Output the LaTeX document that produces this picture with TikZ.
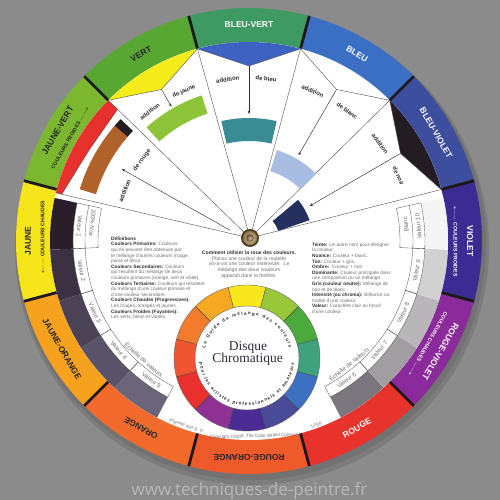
\documentclass[tikz,border=0pt]{standalone}
\usepackage{fontspec}
\setmainfont{Liberation Sans}
\newfontfamily\dqserif{Liberation Serif}
\newfontfamily\wmfont{Open Sans}
\usepackage{graphicx}
\usetikzlibrary{decorations.text,arrows.meta}
\definecolor{bg}{HTML}{8B8B8B}
\definecolor{cBV}{HTML}{3E9A62}
\definecolor{cB}{HTML}{3B6FC3}
\definecolor{cBVi}{HTML}{3C4E9D}
\definecolor{cVi}{HTML}{3C2B93}
\definecolor{cRV}{HTML}{8B2A9B}
\definecolor{cR}{HTML}{E8322C}
\definecolor{cRO}{HTML}{EF5A2A}
\definecolor{cO}{HTML}{F26B2C}
\definecolor{cJO}{HTML}{F6A21E}
\definecolor{cJ}{HTML}{F7E51B}
\definecolor{cJV}{HTML}{7BB82F}
\definecolor{cV}{HTML}{58A733}
\definecolor{divc}{HTML}{1E1818}
\definecolor{wYel}{HTML}{F6EC1C}
\definecolor{wRed}{HTML}{E8302C}
\definecolor{wBlu}{HTML}{3D62C2}
\definecolor{wBlk}{HTML}{231C22}
\definecolor{sBrn}{HTML}{B0622A}
\definecolor{sGrn}{HTML}{8DC43A}
\definecolor{sTeal}{HTML}{3A8C94}
\definecolor{sLB}{HTML}{A9BDE3}
\definecolor{sNavy}{HTML}{26305E}
\definecolor{txtd}{HTML}{2E2E2E}
\definecolor{txtl}{HTML}{6E6E6E}
\definecolor{linec}{HTML}{5A5A5A}
\definecolor{dqc}{HTML}{2B2B3C}
\definecolor{wmc}{HTML}{B8B8B8}
\definecolor{vA}{HTML}{2A1E2A}
\definecolor{vB}{HTML}{3B3142}
\definecolor{vC}{HTML}{4B4256}
\definecolor{vD}{HTML}{5A5268}
\definecolor{vE}{HTML}{6C657A}
\definecolor{vF}{HTML}{7B757D}
\definecolor{vG}{HTML}{A19DA1}
\definecolor{vH}{HTML}{B8B6B8}
\definecolor{vI}{HTML}{D2D1D2}
\definecolor{vJ}{HTML}{F5F5F5}
\definecolor{swY}{HTML}{F8E71C}
\definecolor{swYO}{HTML}{F6A823}
\definecolor{swO}{HTML}{F37B2B}
\definecolor{swRO}{HTML}{EF5530}
\definecolor{swR}{HTML}{E9302D}
\definecolor{swRV}{HTML}{8F3193}
\definecolor{swVi}{HTML}{4B2C95}
\definecolor{swBV}{HTML}{4A4B98}
\definecolor{swB}{HTML}{3C70C0}
\definecolor{swBG}{HTML}{3FA27F}
\definecolor{swG}{HTML}{4AAA3B}
\definecolor{swYG}{HTML}{98C73A}
\definecolor{pivD}{HTML}{4A3A28}
\definecolor{pivM}{HTML}{8A6A40}
\definecolor{pivL}{HTML}{EFE2C0}
\newcommand\annfill[5]{\fill[#1] (#2:#4) arc[start angle=#2,end angle=#3,radius=#4] -- (#3:#5) arc[start angle=#3,end angle=#2,radius=#5] -- cycle;}
\tikzset{
 ringlab/.style={font=\fontsize{8.5}{9}\selectfont\bfseries,inner sep=0pt},
 sublab/.style={font=\fontsize{5.2}{6}\selectfont\bfseries,inner sep=0pt},
 sectxt/.style={font=\fontsize{6}{7}\selectfont\bfseries,text=txtd,inner sep=0pt},
 vallab/.style={font=\fontsize{6}{7}\selectfont,text=txtl,inner sep=0pt},
 fine/.style={draw=linec,line width=0.45pt},
 arr/.style={draw=txtd,line width=0.45pt,-{Stealth[length=3.4pt,width=2.6pt]}},
 blk/.style={font=\fontsize{4.8}{5.6}\selectfont,text=txtl,inner sep=0pt},
 blkm/.style={font=\fontsize{5.1}{5.8}\selectfont,text=txtl,inner sep=0pt},
 tiny/.style={font=\fontsize{4.5}{5}\selectfont,text=txtl,inner sep=0pt},
}
\begin{document}
\begin{tikzpicture}[x=1pt,y=1pt]
\useasboundingbox (-249,-259) rectangle (251,241);
\fill[bg] (-249,-259) rectangle (251,241);
% shadow
\fill[black,opacity=0.10] (3,-7) circle[radius=237];
\fill[black,opacity=0.08] (2,-4) circle[radius=235];
% outer colour ring
\foreach \c/\a [evaluate=\a as \alo using \a-15, evaluate=\a as \ahi using \a+15] in
 {cBV/90, cB/60, cBVi/30, cVi/0, cRV/-30, cR/-60, cRO/-90, cO/-120, cJO/-150, cJ/180, cJV/150, cV/120}
 {\annfill{\c}{\alo}{\ahi}{198}{233}}
\foreach \a in {15,45,...,345} \draw[divc,line width=2.8pt] (\a:198) -- (\a:233);
% upper white disc
\fill[white] (0,0) circle[radius=199];
% windows
\coordinate (P) at (1,3);
\fill[wYel] (105:199) -- (120:175) -- (135:199) arc[start angle=135,end angle=105,radius=199] -- cycle;
\fill[wBlu] (75:199) -- (90:175) -- (105:199) arc[start angle=105,end angle=75,radius=199] -- cycle;
\fill[wBlk] (15:199) -- (30:175) -- (45:199) arc[start angle=45,end angle=15,radius=199] -- cycle;
\fill[wRed] (135:199) -- (135:186) -- (150.5:184) -- (166:193) -- (166:199) arc[start angle=166,end angle=135,radius=199] -- cycle;
\foreach \a/\b/\m/\r in {105/135/120/175, 75/105/90/175, 45/75/60/175, 15/45/30/175}
 \draw[fine] (\a:199) -- (\m:\r) -- (\b:199);
\draw[fine] (135:186) -- (150.5:184) -- (166:193);
% radial sector lines
\foreach \a in {166,135,105,75,45,15}
 \draw[fine] (P) -- (\a:199);
% swatches
\annfill{sBrn}{139}{163}{160}{177}
\annfill{wBlk}{136.5}{139.3}{160}{177}
\annfill{sGrn}{108}{132}{134}{153}
\annfill{sTeal}{77}{103}{100}{123}
\annfill{sLB}{45}{73}{73}{95}
\annfill{sNavy}{19}{40}{31}{64}
% arrows
\draw[arr] (150.5:22) -- (150.5:146);
\draw[arr] (120:175) -- (120:155);
\draw[arr] (90:175) -- (90:127);
\draw[arr] (60:175) -- (60:99);
\draw[arr] (30:175) -- (30:70);
% sector texts
\node[sectxt,rotate=68] (tRa) at (158:134) {addition};
\node[sectxt,rotate=53] (tRb) at (143:134) {de rouge};
\node[sectxt,rotate=37.5] (tYa) at (127.5:163) {addition};
\node[sectxt,rotate=23.5] (tYb) at (113.5:163) {de jaune};
\node[sectxt,rotate=7.5] (tBa) at (97.5:163) {addition};
\node[sectxt,rotate=-6] (tBb) at (84:163) {de bleu};
\node[sectxt,rotate=-23] (tWa) at (67:163) {addition};
\node[sectxt,rotate=-37] (tWb) at (53:163) {de blanc};
\node[sectxt,rotate=-53.5] (tNa) at (36.5:163) {addition};
\node[sectxt,rotate=-66.5] (tNb) at (23.5:163) {de noir};
% value scale
\foreach \k/\vlo/\col in {1/167.5/vA, 2/182.5/vB, 3/197.5/vC, 4/212.5/vD, 5/227.5/vE, 6/-62.5/vF, 7/-47.5/vG, 8/-32.5/vH, 9/-17.5/vI, 10/-2.5/vJ} {
  \pgfmathsetmacro\vhi{\vlo+15}
  \pgfmathsetmacro\vmd{\vlo+7.5}
  \pgfmathsetmacro\vrot{\vlo+97.5}
  \annfill{\col}{\vlo}{\vhi}{176}{199}
  \draw[fine,line width=0.35pt] (\vlo:164) arc[start angle=\vlo,end angle=\vhi,radius=164] -- (\vhi:176) arc[start angle=\vhi,end angle=\vlo,radius=176] -- cycle;
  \node[vallab,rotate=\vrot] (v\k) at (\vmd:170) {Valeur \k};
}
\draw[fine,line width=0.35pt] (167.5:151) arc[start angle=167.5,end angle=182.5,radius=151] -- (182.5:164);
\draw[fine,line width=0.35pt] (167.5:151) -- (167.5:164);
\draw[fine,line width=0.35pt] (-2.5:151) arc[start angle=-2.5,end angle=12.5,radius=151] -- (12.5:164);
\draw[fine,line width=0.35pt] (-2.5:151) -- (-2.5:164);
\node[vallab,rotate=263.5] (noir) at (173.5:157.5) {100\% Noir};
\node[vallab,rotate=96] (blanc) at (6:157.5) {Blanc};
\node[vallab,rotate=318.5] (echL) at (228.5:158.5) {Échelle de valeurs};
\node[vallab,rotate=39] (echR) at (-51:158.5) {Échelle de valeurs};
% text blocks
\node[blk,anchor=north west,align=left] (defs) at (-138,4.5) {%
{\bfseries\color{txtd}Définitions}\\
{\bfseries\color{txtd}Couleurs Primaires:} Couleurs\\
qui ne peuvent être obtenues par\\
le mélange d'autres couleurs (rouge,\\
jaune et bleu).\\
{\bfseries\color{txtd}Couleurs Secondaires:} Couleurs\\
qui résultent du mélange de deux\\
couleurs primaires (orange, vert et violet).\\
{\bfseries\color{txtd}Couleurs Tertiaires:} Couleurs qui résultent\\
du mélange d'une couleur primaire et\\
d'une couleur secondaire.\\
{\bfseries\color{txtd}Couleurs Chaudes (Progressives):}\\
Les rouges, orangés et jaunes.\\
{\bfseries\color{txtd}Couleurs Froides (Fuyantes):}\\
Les verts, bleus et violets.};
\node[blkm,anchor=north,align=center] (howto) at (0,-9.5) {%
{\bfseries\color{txtd}Comment utiliser la roue des couleurs.}\\
Placez une couleur de la roulette\\
vis-à-vis une couleur extérieure.\ \ Le\\
mélange des deux couleurs\\
apparaît dans la fenêtre.};
\node[blk,anchor=north west,align=left] (terms) at (63,-1.5) {%
{\bfseries\color{txtd}Teinte:} Un autre nom pour désigner\\
la couleur.\\
{\bfseries\color{txtd}Nuance:} Couleur + blanc.\\
{\bfseries\color{txtd}Ton:} Couleur + gris.\\
{\bfseries\color{txtd}Ombre:}\ \ Couleur + noir.\\
{\bfseries\color{txtd}Dominante:} Couleur principale dans\\
une composition ou un mélange.\\
{\bfseries\color{txtd}Gris (couleur neutre):} Mélange de\\
noir et de blanc.\\
{\bfseries\color{txtd}Intensité (ou chroma):} Brillance ou\\
matité d'une couleur.\\
{\bfseries\color{txtd}Valeur:} Caractère clair ou foncé\\
d'une couleur.};
% copyright arc text
\node[tiny,rotate=-18.6] (impr) at (-108.6:195.5) {Imprimé Aux E. U.};
\node[tiny,rotate=1.8] (copy) at (-88.2:195.5) {Copyright ©2008, The Color Wheel Company};
\node[tiny,rotate=20] (date) at (-70:196) {12/08};
% small colour wheel
\begin{scope}[shift={(-2,-117)}]
\foreach \c/\a [evaluate=\a as \alo using \a-15, evaluate=\a as \ahi using \a+15] in
 {swY/90, swYO/120, swO/150, swRO/180, swR/210, swRV/240, swVi/270, swBV/300, swB/330, swBG/0, swG/30, swYG/60}
 {\annfill{\c}{\alo}{\ahi}{52}{73}}
\foreach \a in {15,45,...,345} \draw[black!75,line width=0.4pt] (\a:52) -- (\a:73);
\draw[black!60,line width=0.4pt] (0,0) circle[radius=73];
\draw[black!60,line width=0.4pt] (0,0) circle[radius=52];
\path[decorate,decoration={text along path,text align={fit to path},
  text={|\fontsize{4.6}{5}\selectfont\bfseries\color{txtd}|Le Guide du mélange des couleurs}}]
  (167:43) arc[start angle=167,end angle=13,radius=43];
\path[decorate,decoration={text along path,text align={fit to path},
  text={|\fontsize{4.6}{5}\selectfont\bfseries\color{txtd}|pour les artistes professionnels et amateurs}}]
  (186:47.5) arc[start angle=186,end angle=354,radius=47.5];
\node[font=\dqserif\fontsize{13.5}{13}\selectfont,text=dqc,anchor=base,inner sep=0pt] (dq1) at (1,8) {Disque};
\node[font=\dqserif\fontsize{13.5}{13}\selectfont,text=dqc,anchor=base,inner sep=0pt] (dq2) at (0.5,-4) {Chromatique};
\end{scope}
% pivot
\fill[pivD] (P) circle[radius=9];
\shade[inner color=pivL,outer color=pivM] (P) circle[radius=7.2];
\shade[inner color=pivL!70!pivM,outer color=pivD!80!pivM] (P) circle[radius=3.8];
% ring labels
\node[ringlab,text=white,rotate=0] (lBV) at (90:216) {BLEU-VERT};
\node[ringlab,text=white,rotate=-30] (lB) at (60:216) {BLEU};
\node[ringlab,text=white,rotate=-60] (lBVi) at (30:216) {BLEU-VIOLET};
\node[ringlab,text=white,rotate=-90] (lVi) at (0:221) {VIOLET};
\node[sublab,text=white,rotate=-90] (sVi) at (0:206.5) {\scalebox{1.5}[1]{$\longleftarrow$}\,COULEURS FROIDES};
\node[ringlab,text=white,rotate=-120] (lRV) at (-30:221) {ROUGE-VIOLET};
\node[sublab,text=white,rotate=-120] (sRV) at (-30:206.5) {COULEURS CHAUDES\,\scalebox{1.5}[1]{$\longrightarrow$}};
\node[ringlab,text=white,rotate=30] (lR) at (-60:216) {ROUGE};
\node[ringlab,text=black!85,rotate=180] (lRO) at (-90:216) {ROUGE-ORANGE};
\node[ringlab,text=black!85,rotate=150] (lO) at (-120:216) {ORANGE};
\node[ringlab,text=black!85,rotate=-60] (lJO) at (210:216) {JAUNE-ORANGE};
\node[ringlab,text=black!85,rotate=90] (lJ) at (180:221) {JAUNE};
\node[sublab,text=black!85,rotate=90] (sJ) at (179:206.5) {\scalebox{1.5}[1]{$\longleftarrow$}\,COULEURS CHAUDES};
\node[ringlab,text=black!85,rotate=60] (lJV) at (150:221) {JAUNE-VERT};
\node[sublab,text=black!85,rotate=60] (sJV) at (150:206.5) {COULEURS FROIDES\,\scalebox{1.5}[1]{$\longrightarrow$}};
\node[ringlab,text=black!85,rotate=30] (lV) at (120:216) {VERT};
% watermark
\node[font=\wmfont\fontsize{17}{18}\selectfont,text=wmc,anchor=base,inner sep=0pt] (wm) at (0.5,-254) {www.techniques-de-peintre.fr};
\end{tikzpicture}
\end{document}
